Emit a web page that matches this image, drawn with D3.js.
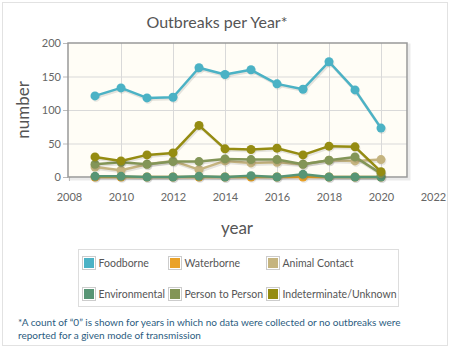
<!DOCTYPE html>
<html>
<head>
<meta charset="utf-8">
<script src="https://cdn.jsdelivr.net/npm/d3@7"></script>
<style>
  body { margin: 0; background: #fff; }
  svg { display: block; font-family: Lato, "Open Sans", sans-serif; }
</style>
</head>
<body>
<svg id="chart" width="450" height="349"></svg>
<script>
// data
var years = [2009, 2010, 2011, 2012, 2013, 2014, 2015, 2016, 2017, 2018, 2019, 2020];
var seriesNames = ["Foodborne", "Waterborne", "Animal Contact", "Environmental", "Person to Person", "Indeterminate/Unknown"];
var seriesColors = ["#4bb2c5", "#eaa228", "#c5b47f", "#579575", "#839557", "#958c12"];
var foodborne     = [121, 133, 118, 119, 163, 153, 160, 139, 131, 172, 130, 73];
var waterborne    = [0, 0, 0, 0, 0, 0, 0, 0, 0, 0, 0, 0];
var animalContact = [15, 10, 19, 24, 11, 24, 21, 22, 19, 25, 24, 26];
var environmental = [1, 1, 0, 0, 1, 0, 2, 0, 4, 0, 0, 0];
var personToPerson = [19, 22, 19, 23, 23, 27, 26, 26, 19, 25, 30, 5];
var indeterminate = [30, 24, 33, 36, 77, 42, 41, 43, 33, 46, 45, 8];
var xTicks = [2008, 2010, 2012, 2014, 2016, 2018, 2020, 2022];
var yTicks = [0, 50, 100, 150, 200];
var footnote = ["*A count of \u201c0\u201d is shown for years in which no data were collected or no outbreaks were",
                "reported for a given mode of transmission"];

var allSeries = [foodborne, waterborne, animalContact, environmental, personToPerson, indeterminate];

var svg = d3.select("#chart");

// outer box
svg.append("rect")
    .attr("x", 2.5).attr("y", 2.5)
    .attr("width", 445).attr("height", 343)
    .attr("fill", "#fff")
    .attr("stroke", "#e2e2e2");

// plot area
var plot = {left: 68, top: 43, right: 407, bottom: 177};

var x = d3.scaleLinear().domain([2008, 2022]).range([69, 433]);
var y = d3.scaleLinear().domain([0, 200]).range([plot.bottom, plot.top]);

// title
svg.append("text")
    .attr("x", 217).attr("y", 28)
    .attr("text-anchor", "middle")
    .attr("font-size", 16)
    .attr("fill", "#555")
    .text("Outbreaks per Year*");

// frame shadow + background
svg.append("rect")
    .attr("x", plot.left + 2).attr("y", plot.top + 2)
    .attr("width", plot.right - plot.left).attr("height", plot.bottom - plot.top)
    .attr("fill", "none")
    .attr("stroke", "rgba(0,0,0,0.08)")
    .attr("stroke-width", 3);
svg.append("rect")
    .attr("x", plot.left).attr("y", plot.top)
    .attr("width", plot.right - plot.left).attr("height", plot.bottom - plot.top)
    .attr("fill", "#fffdf6");

// grid
svg.append("g")
    .selectAll("line")
    .data(yTicks.slice(1, -1))
    .join("line")
    .attr("x1", plot.left).attr("x2", plot.right)
    .attr("y1", d => y(d) + 0.5).attr("y2", d => y(d) + 0.5)
    .attr("stroke", "#d9d9d9");
svg.append("g")
    .selectAll("line")
    .data(xTicks.filter(d => x(d) > plot.left + 2 && x(d) < plot.right))
    .join("line")
    .attr("x1", d => Math.round(x(d)) + 0.5).attr("x2", d => Math.round(x(d)) + 0.5)
    .attr("y1", plot.top).attr("y2", plot.bottom)
    .attr("stroke", "#d9d9d9");

// axes
var yAxis = d3.axisLeft(y).tickValues(yTicks).tickSize(5).tickPadding(2);
var xAxis = d3.axisBottom(x).tickValues(xTicks).tickFormat(d3.format("d")).tickSize(4).tickPadding(12);

var gy = svg.append("g")
    .attr("transform", "translate(" + plot.left + ",0)")
    .call(yAxis);
var gx = svg.append("g")
    .attr("transform", "translate(0," + plot.bottom + ")")
    .call(xAxis);
[gx, gy].forEach(function(g) {
    g.select(".domain").remove();
    g.selectAll(".tick line").attr("stroke", "#bbb");
    g.selectAll(".tick text").attr("fill", "#666").attr("font-size", 11)
        .attr("font-family", "Lato, sans-serif");
});
gx.selectAll(".tick line").filter(d => x(d) > plot.right).remove();

// frame border
svg.append("rect")
    .attr("x", plot.left).attr("y", plot.top)
    .attr("width", plot.right - plot.left).attr("height", plot.bottom - plot.top)
    .attr("fill", "none")
    .attr("stroke", "#999")
    .attr("stroke-width", 1.5);

// axis titles
svg.append("text")
    .attr("x", 237).attr("y", 234)
    .attr("text-anchor", "middle")
    .attr("font-size", 17)
    .attr("fill", "#555")
    .text("year");
svg.append("text")
    .attr("transform", "translate(29,110) rotate(-90)")
    .attr("text-anchor", "middle")
    .attr("font-size", 17)
    .attr("fill", "#555")
    .text("number");

// lines
var line = d3.line()
    .x((d, i) => x(years[i]))
    .y(d => y(d));

var lines = svg.append("g");
allSeries.forEach(function(values, s) {
    var g = lines.append("g");
    // shadow
    g.append("path")
        .datum(values)
        .attr("d", line)
        .attr("transform", "translate(1,1.5)")
        .attr("fill", "none")
        .attr("stroke", "rgba(0,0,0,0.1)")
        .attr("stroke-width", 3);
    g.selectAll("circle.shadow")
        .data(values)
        .join("circle")
        .attr("class", "shadow")
        .attr("cx", (d, i) => x(years[i]) + 1)
        .attr("cy", d => y(d) + 1.5)
        .attr("r", 4.5)
        .attr("fill", "rgba(0,0,0,0.08)");
    g.append("path")
        .datum(values)
        .attr("d", line)
        .attr("fill", "none")
        .attr("stroke", seriesColors[s])
        .attr("stroke-width", 2.5)
        .attr("stroke-linejoin", "round");
    g.selectAll("circle.pt")
        .data(values)
        .join("circle")
        .attr("class", "pt")
        .attr("cx", (d, i) => x(years[i]))
        .attr("cy", d => y(d))
        .attr("r", 4.5)
        .attr("fill", seriesColors[s]);
});

// legend
svg.append("rect")
    .attr("x", 78.5).attr("y", 249.5)
    .attr("width", 320).attr("height", 57)
    .attr("fill", "#fff")
    .attr("stroke", "#ddd");

var colX = [82, 168, 266];
var rowY = [263, 294];
var legend = svg.append("g");
seriesNames.forEach(function(name, i) {
    var cx = colX[i % 3], cy = rowY[Math.floor(i / 3)];
    legend.append("rect")
        .attr("x", cx + 0.5).attr("y", cy - 6.5)
        .attr("width", 13).attr("height", 13)
        .attr("fill", "#fff")
        .attr("stroke", "#ccc");
    legend.append("rect")
        .attr("x", cx + 2).attr("y", cy - 5)
        .attr("width", 10).attr("height", 10)
        .attr("fill", seriesColors[i]);
    legend.append("text")
        .attr("x", cx + 16.5).attr("y", cy + 4)
        .attr("font-size", 10.5)
        .attr("fill", "#555")
        .text(name);
});

// footnote
svg.append("g")
    .selectAll("text")
    .data(footnote)
    .join("text")
    .attr("x", 18)
    .attr("y", (d, i) => 326 + i * 13)
    .attr("font-size", 10)
    .attr("fill", "#2b5c80")
    .text(d => d);
</script>
</body>
</html>
